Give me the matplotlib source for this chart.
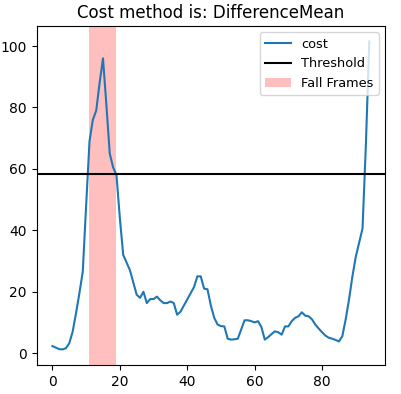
import numpy as np
from matplotlib import pyplot as plt

# cost per frame
cost = [2.3, 1.8, 1.3, 1.2, 1.6, 3.2, 7, 13, 19.5, 26.5,
        48, 69, 76, 79, 88, 96, 81, 65, 60.5, 58,
        44, 32, 29.5, 27, 23, 19, 18, 20, 16.3, 17.6,
        17.6, 18.4, 17.2, 16.3, 16.3, 16.8, 16.3, 12.5, 13.5, 15.5,
        17.5, 19.5, 21.5, 25, 25, 21, 20.8, 15.5, 11.5, 9.3,
        8.8, 8.7, 4.7, 4.4, 4.5, 4.7, 7.7, 10.7, 10.7, 10.4,
        10, 10.4, 8.5, 4.4, 5.2, 6.2, 7.1, 6.8, 6, 8.7,
        8.7, 10.4, 11.5, 12, 13.3, 12.2, 12, 11, 9.3, 8,
        6.8, 5.7, 5, 4.7, 4.3, 3.8, 5.5, 11, 17.5, 25,
        31.4, 36, 40.6, 68, 101.5]
threshold = 58.3
fall_start = 10.9
fall_end = 19

fig = plt.figure(figsize=(4.02, 3.94), dpi=100)
ax = fig.add_axes([0.091, 0.074, 0.867, 0.86])

ax.plot(np.arange(len(cost)), cost, label='cost')
ax.axhline(threshold, color='black', label='Threshold')
ax.axvspan(fall_start, fall_end, color='red', alpha=0.25, lw=0, label='Fall Frames')
ax.set_title('Cost method is: DifferenceMean')
ax.legend(loc='upper right', fontsize=9.3)

fig.savefig('out.png', dpi=100)
